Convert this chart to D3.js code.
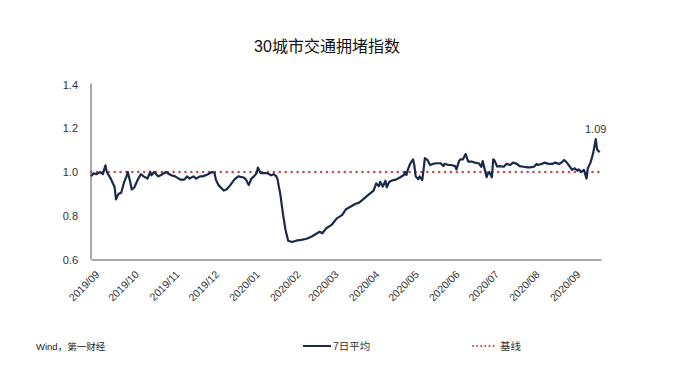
<!DOCTYPE html>
<html>
<head>
<meta charset="utf-8">
<script src="https://cdn.jsdelivr.net/npm/d3@7"></script>
<style>
  body { margin: 0; background: #fff; }
  text { font-family: "Liberation Sans", "Noto Sans CJK SC", sans-serif; }
</style>
</head>
<body>
<div id="chart"></div>
<script>
//chart data: days since 2019/09/01 and the 7-day average index
var startDate = new Date(2019, 8, 1);
var days = [0,2,4,7,9,11,12,15,18,19,21,23,25,27,28,30,31,33,36,38,40,43,45,46,48,51,53,57,61,64,68,71,73,75,78,80,83,85,89,92,94,95,97,101,103,106,109,112,116,118,120,122,124,126,127,129,131,134,137,139,141,142,143,144,146,148,150,153,156,160,164,168,172,174,176,179,183,187,191,194,197,201,204,207,211,215,217,219,220,222,224,225,227,230,232,235,238,239,240,241,243,245,246,247,249,250,252,253,254,256,258,260,263,266,268,269,272,274,277,278,280,281,283,285,287,290,292,295,297,298,300,301,302,303,305,306,307,309,311,314,316,319,321,324,326,329,332,334,337,339,340,343,345,348,351,353,356,358,360,362,364,366,368,370,371,373,375,377,378,380,382,384,385,386,387];
var values = [0.98,0.994,0.99,1.0,0.99,1.03,1.0,0.97,0.93,0.875,0.90,0.905,0.95,0.98,1.0,0.95,0.92,0.93,0.97,0.99,0.98,0.97,1.0,0.985,1.0,0.98,0.985,1.0,0.985,0.98,0.965,0.965,0.98,0.97,0.98,0.97,0.98,0.98,0.99,1.0,0.995,0.965,0.94,0.915,0.92,0.94,0.965,0.98,0.975,0.965,0.94,0.97,0.98,0.995,1.02,0.995,0.995,0.995,0.985,0.99,0.98,0.965,0.93,0.90,0.81,0.735,0.686,0.68,0.686,0.69,0.695,0.705,0.72,0.727,0.72,0.743,0.758,0.788,0.803,0.83,0.84,0.854,0.86,0.875,0.895,0.915,0.948,0.935,0.955,0.933,0.96,0.93,0.955,0.963,0.965,0.975,0.986,1.0,0.986,1.01,1.04,1.058,1.03,0.98,0.967,0.98,0.963,1.01,1.063,1.055,1.032,1.037,1.04,1.04,1.027,1.037,1.032,1.032,1.027,1.012,1.05,1.058,1.058,1.082,1.047,1.047,1.043,1.04,1.024,1.05,1.0,0.976,0.994,1.0,0.976,1.058,1.052,1.025,1.027,1.024,1.037,1.032,1.043,1.037,1.027,1.024,1.021,1.021,1.024,1.037,1.032,1.037,1.043,1.037,1.037,1.043,1.037,1.043,1.055,1.043,1.027,1.01,1.017,1.006,1.012,1.0,1.01,0.97,1.017,1.043,1.085,1.15,1.104,1.096,1.09];
var yTicks = [0.6, 0.8, 1.0, 1.2, 1.4];
var baseline = 1.0;
var lastLabel = "1.09";
var title = "30城市交通拥堵指数";
var source = "Wind，第一财经";
var legendNames = ["7日平均", "基线"];

var data = days.map(function(d, i) {
  return { time: d3.timeDay.offset(startDate, d), value: values[i] };
});

var width = 673, height = 373;
var svg = d3.select("#chart").append("svg")
    .attr("width", width)
    .attr("height", height);

//scales
var x = d3.scaleTime()
    .domain([startDate, d3.timeDay.offset(startDate, 388)])
    .range([91, 601]);
var y = d3.scaleLinear()
    .domain([0.6, 1.4])
    .range([259.5, 84.5]);

//title
svg.append("text")
    .attr("x", 327).attr("y", 52)
    .attr("text-anchor", "middle")
    .style("font-size", "16px")
    .style("fill", "#111")
    .text(title);

//y-axis
var yAxis = svg.append("g")
    .attr("transform", "translate(91,0)")
    .call(d3.axisLeft(y).tickValues(yTicks).tickFormat(d3.format(".1f")).tickSize(0).tickPadding(13));
yAxis.select(".domain").attr("stroke", "#8c8c8c").attr("stroke-width", 1.5)
    .attr("d", "M0," + (y(1.4) - 1) + "V" + y(0.6));
yAxis.selectAll("text").style("font-size", "11px").style("fill", "#333");

//x-axis
var xAxis = svg.append("g")
    .attr("transform", "translate(0," + y(0.6) + ")")
    .call(d3.axisBottom(x).ticks(d3.timeMonth.every(1)).tickFormat(d3.timeFormat("%Y/%m")).tickSize(0));
xAxis.select(".domain").attr("stroke", "#555").attr("stroke-width", 1.2);
xAxis.selectAll("text")
    .style("font-size", "10.5px")
    .style("fill", "#333")
    .attr("text-anchor", "end")
    .attr("dy", null)
    .attr("transform", "translate(3,10) rotate(-45)")
    .attr("y", 0).attr("x", 0)
    .attr("dominant-baseline", "hanging");

//baseline
svg.append("line")
    .attr("x1", x.range()[0]).attr("x2", x.range()[1])
    .attr("y1", y(baseline)).attr("y2", y(baseline))
    .attr("stroke", "#c0504d")
    .attr("stroke-width", 2.5)
    .attr("stroke-linecap", "round")
    .attr("stroke-dasharray", "0.1,5.8");

//index line
var line = d3.line()
    .x(function(d) { return x(d.time); })
    .y(function(d) { return y(d.value); });
svg.append("path")
    .datum(data)
    .attr("fill", "none")
    .attr("stroke", "#1b2a4a")
    .attr("stroke-width", 2.2)
    .attr("stroke-linejoin", "round")
    .attr("d", line);

//last value label
var last = data[data.length - 1];
svg.append("text")
    .attr("x", x(last.time) - 4).attr("y", 133)
    .attr("text-anchor", "middle")
    .style("font-size", "11px")
    .style("fill", "#333")
    .text(lastLabel);

//source and legend
svg.append("text")
    .attr("x", 36).attr("y", 350)
    .style("font-size", "9.5px")
    .style("fill", "#222")
    .text(source);

svg.append("line")
    .attr("x1", 303).attr("x2", 331).attr("y1", 346).attr("y2", 346)
    .attr("stroke", "#1b2a4a").attr("stroke-width", 2);
svg.append("text")
    .attr("x", 333).attr("y", 350)
    .style("font-size", "10.5px").style("fill", "#333")
    .text(legendNames[0]);

svg.append("line")
    .attr("x1", 473).attr("x2", 497).attr("y1", 346).attr("y2", 346)
    .attr("stroke", "#c0504d").attr("stroke-width", 2)
    .attr("stroke-linecap", "round")
    .attr("stroke-dasharray", "0.1,4");
svg.append("text")
    .attr("x", 500).attr("y", 350)
    .style("font-size", "10.5px").style("fill", "#333")
    .text(legendNames[1]);
</script>
</body>
</html>
